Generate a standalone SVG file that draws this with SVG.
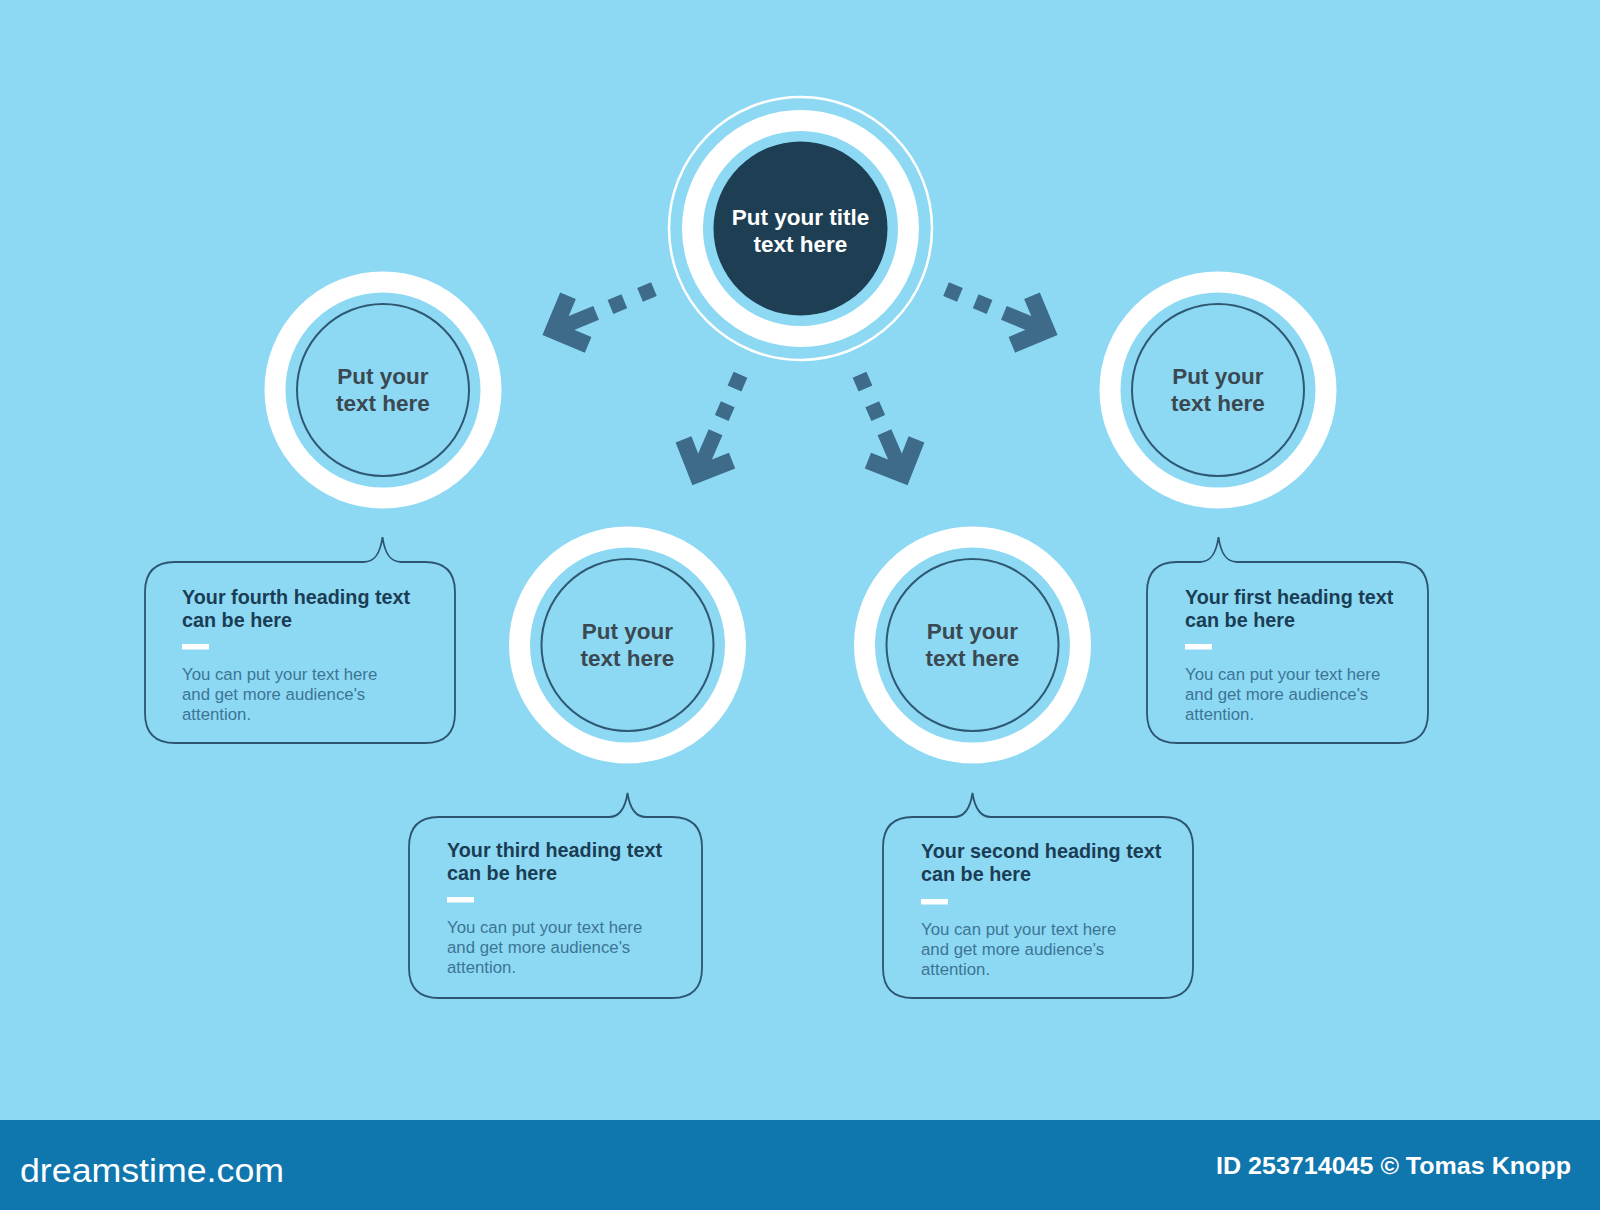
<svg xmlns="http://www.w3.org/2000/svg" width="1600" height="1210" viewBox="0 0 1600 1210">
<defs>
<style>
.bg{fill:#8dd9f4}
.ring{fill:none;stroke:#ffffff;stroke-width:21}
.inner{fill:none;stroke:#2f5872;stroke-width:2}
.ctext{font-family:"Liberation Sans",Arial,sans-serif;font-weight:bold;font-size:22.5px;fill:#3a4852;text-anchor:middle}
.ttext{font-family:"Liberation Sans",Arial,sans-serif;font-weight:bold;font-size:22.5px;fill:#ffffff;text-anchor:middle}
.bubble{fill:none;stroke:#2d5570;stroke-width:1.8}
.head{font-family:"Liberation Sans",Arial,sans-serif;font-weight:bold;font-size:19.8px;fill:#1b3d54}
.body{font-family:"Liberation Sans",Arial,sans-serif;font-size:16.8px;fill:#3c7594}
.dash{fill:#ffffff}
.arrow{fill:#3e6b8a}
.arrowline{fill:none;stroke:#3e6b8a;stroke-width:15;stroke-linejoin:miter;stroke-miterlimit:4}
.arrowhead{fill:none;stroke:#3e6b8a;stroke-width:17;stroke-linejoin:miter;stroke-miterlimit:4}
</style>
<g id="arrowShape">
<rect class="arrow" x="-7.5" y="-7.5" width="15" height="15"/>
<rect class="arrow" x="24.5" y="-7.5" width="15" height="15"/>
<line class="arrowline" x1="55" y1="0" x2="100" y2="0"/>
<polyline class="arrowhead" points="74.5,-26.5 101,0 74.5,26.5"/>
</g>
</defs>
<rect class="bg" x="0" y="0" width="1600" height="1210"/>

<g id="connectors">
<use href="#arrowShape" transform="translate(647,292) rotate(157.7)"/>
<use href="#arrowShape" transform="translate(953,292) rotate(22.3)"/>
<use href="#arrowShape" transform="translate(737.5,381.7) rotate(113.5)"/>
<use href="#arrowShape" transform="translate(862.5,381.7) rotate(66.5)"/>
</g>

<g id="title">
<circle cx="800.5" cy="228.5" r="131.5" fill="none" stroke="#ffffff" stroke-width="2.5"/>
<circle class="ring" cx="800.5" cy="228.5" r="108"/>
<circle cx="800.5" cy="228.5" r="87" fill="#1d3e53"/>
<text class="ttext" x="800.5" y="225">Put your title</text>
<text class="ttext" x="800.5" y="252">text here</text>
</g>

<g id="node1">
<circle class="ring" cx="1218" cy="390" r="108"/>
<circle class="inner" cx="1218" cy="390" r="86"/>
<text class="ctext" x="1218" y="384">Put your</text>
<text class="ctext" x="1218" y="411">text here</text>
</g>

<g id="node2">
<circle class="ring" cx="972.5" cy="645" r="108"/>
<circle class="inner" cx="972.5" cy="645" r="86"/>
<text class="ctext" x="972.5" y="639">Put your</text>
<text class="ctext" x="972.5" y="666">text here</text>
</g>

<g id="node3">
<circle class="ring" cx="627.5" cy="645" r="108"/>
<circle class="inner" cx="627.5" cy="645" r="86"/>
<text class="ctext" x="627.5" y="639">Put your</text>
<text class="ctext" x="627.5" y="666">text here</text>
</g>

<g id="node4">
<circle class="ring" cx="383" cy="390" r="108"/>
<circle class="inner" cx="383" cy="390" r="86"/>
<text class="ctext" x="383" y="384">Put your</text>
<text class="ctext" x="383" y="411">text here</text>
</g>

<g id="bubble1">
<path class="bubble" d="M1177,562 L1200,562 C1210,562 1216,555 1218.5,537 C1221,555 1227,562 1237,562 L1398,562 Q1428,562 1428,592 L1428,713 Q1428,743 1398,743 L1177,743 Q1147,743 1147,713 L1147,592 Q1147,562 1177,562 Z"/>
<text class="head" x="1185" y="604">Your first heading text</text>
<text class="head" x="1185" y="627">can be here</text>
<rect class="dash" x="1185" y="644" width="27" height="5.5"/>
<text class="body" x="1185" y="680">You can put your text here</text>
<text class="body" x="1185" y="700">and get more audience's</text>
<text class="body" x="1185" y="720">attention.</text>
</g>

<g id="bubble2">
<path class="bubble" d="M913,817 L954,817 C964,817 970,810 972.5,793 C975,810 981,817 991,817 L1163,817 Q1193,817 1193,847 L1193,968 Q1193,998 1163,998 L913,998 Q883,998 883,968 L883,847 Q883,817 913,817 Z"/>
<text class="head" x="921" y="858">Your second heading text</text>
<text class="head" x="921" y="881">can be here</text>
<rect class="dash" x="921" y="899" width="27" height="5.5"/>
<text class="body" x="921" y="935">You can put your text here</text>
<text class="body" x="921" y="955">and get more audience's</text>
<text class="body" x="921" y="975">attention.</text>
</g>

<g id="bubble3">
<path class="bubble" d="M439,817 L609,817 C619,817 625,810 627.5,793 C630,810 636,817 646,817 L672,817 Q702,817 702,847 L702,968 Q702,998 672,998 L439,998 Q409,998 409,968 L409,847 Q409,817 439,817 Z"/>
<text class="head" x="447" y="857">Your third heading text</text>
<text class="head" x="447" y="880">can be here</text>
<rect class="dash" x="447" y="897" width="27" height="5.5"/>
<text class="body" x="447" y="933">You can put your text here</text>
<text class="body" x="447" y="953">and get more audience's</text>
<text class="body" x="447" y="973">attention.</text>
</g>

<g id="bubble4">
<path class="bubble" d="M175,562 L364,562 C374,562 380,555 382.5,537 C385,555 391,562 401,562 L425,562 Q455,562 455,592 L455,713 Q455,743 425,743 L175,743 Q145,743 145,713 L145,592 Q145,562 175,562 Z"/>
<text class="head" x="182" y="604">Your fourth heading text</text>
<text class="head" x="182" y="627">can be here</text>
<rect class="dash" x="182" y="644" width="27" height="5.5"/>
<text class="body" x="182" y="680">You can put your text here</text>
<text class="body" x="182" y="700">and get more audience's</text>
<text class="body" x="182" y="720">attention.</text>
</g>

<g id="footer">
<rect x="0" y="1120" width="1600" height="90" fill="#0f76ae"/>
<text x="20" y="1182" font-family="Liberation Sans,Arial,sans-serif" font-size="34" fill="#ffffff" textLength="264" lengthAdjust="spacingAndGlyphs">dreamstime.com</text>
<text x="1216" y="1174" font-family="Liberation Sans,Arial,sans-serif" font-weight="bold" font-size="24" fill="#ffffff" textLength="355" lengthAdjust="spacingAndGlyphs">ID 253714045 © Tomas Knopp</text>
</g>
</svg>
